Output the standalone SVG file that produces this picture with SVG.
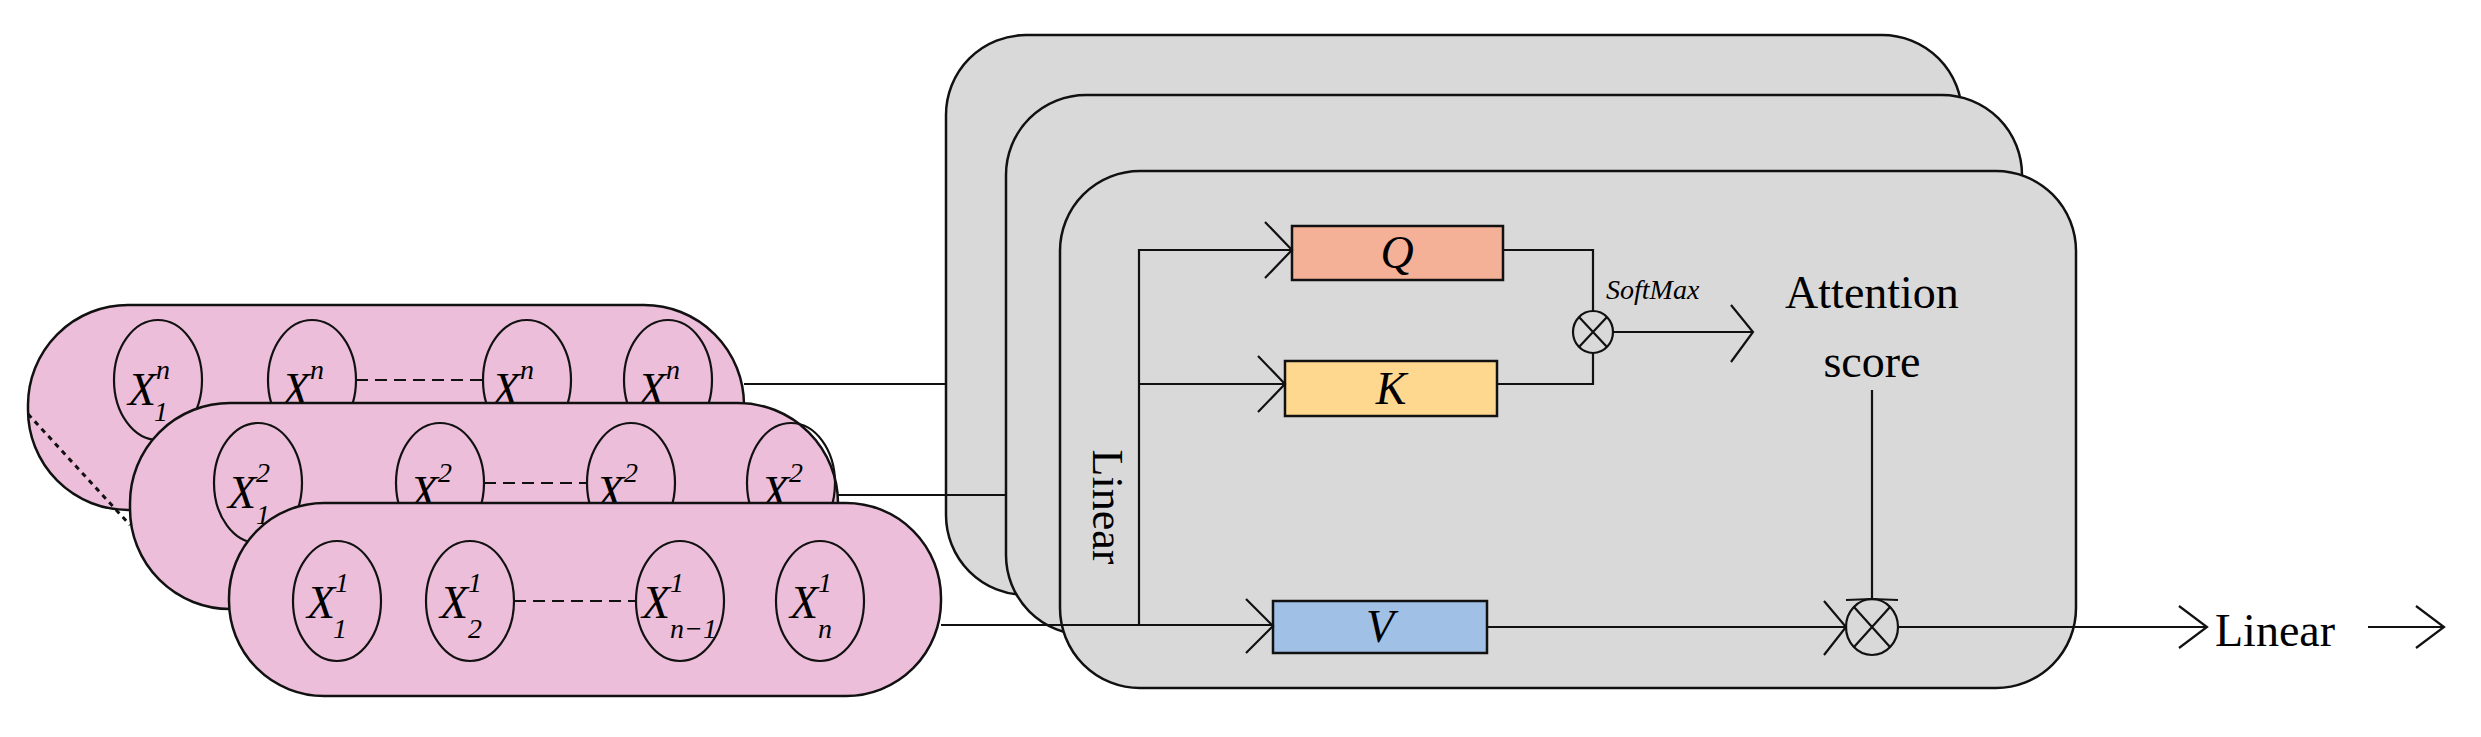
<svg xmlns="http://www.w3.org/2000/svg" width="2481" height="737" viewBox="0 0 2481 737">
<style>
.g{fill:#d9d9d9;stroke:#111;stroke-width:2.5}
.p{fill:#ecbed9;stroke:#111;stroke-width:2.5}
.e{fill:none;stroke:#111;stroke-width:2.2}
.l{fill:none;stroke:#111;stroke-width:2.2}
.ch{fill:none;stroke:#111;stroke-width:2.2}
.t{font-family:"Liberation Serif",serif;fill:#000}
.x{font-family:"Liberation Serif",serif;font-style:italic;font-size:46px}
.s{font-size:28px}
</style>
<g id="panels">
<rect class="g" x="946" y="35" width="1016" height="560" rx="80"/>
<rect class="g" x="1006" y="95" width="1016" height="540" rx="80"/>
<rect class="g" x="1060" y="171" width="1016" height="517" rx="80"/>
</g>
<g id="pink-n">
<rect class="p" x="28" y="305" width="716" height="205" rx="100"/>
<line x1="28" y1="414" x2="130" y2="525" stroke="#111" stroke-width="3" stroke-dasharray="5,5"/>
<ellipse class="e" cx="158" cy="380" rx="44" ry="60"/><ellipse class="e" cx="312" cy="380" rx="44" ry="60"/>
<ellipse class="e" cx="527" cy="380" rx="44" ry="60"/><ellipse class="e" cx="668" cy="380" rx="44" ry="60"/>
<line x1="356" y1="380" x2="483" y2="380" stroke="#111" stroke-width="2.2" stroke-dasharray="12,7"/>
<text class="x" x="128" y="405">X<tspan class="s" dy="-26">n</tspan><tspan class="s" dx="-16" dy="42">1</tspan></text>
<text class="x" x="282" y="405">X<tspan class="s" dy="-26">n</tspan><tspan class="s" dx="-16" dy="42">2</tspan></text>
<text class="x" x="492" y="405">X<tspan class="s" dy="-26">n</tspan><tspan class="s" dx="-16" dy="42">n−1</tspan></text>
<text class="x" x="638" y="405">X<tspan class="s" dy="-26">n</tspan><tspan class="s" dx="-16" dy="42">n</tspan></text>
</g>
<g id="pink-2">
<rect class="p" x="130" y="403" width="708" height="206" rx="100"/>
<ellipse class="e" cx="258" cy="483" rx="44" ry="60"/><ellipse class="e" cx="440" cy="483" rx="44" ry="60"/>
<ellipse class="e" cx="631" cy="483" rx="44" ry="60"/><ellipse class="e" cx="791" cy="483" rx="44" ry="60"/>
<line x1="484" y1="483" x2="587" y2="483" stroke="#111" stroke-width="2.2" stroke-dasharray="12,7"/>
<text class="x" x="228" y="508">X<tspan class="s" dy="-26">2</tspan><tspan class="s" dx="-14" dy="42">1</tspan></text>
<text class="x" x="410" y="508">X<tspan class="s" dy="-26">2</tspan><tspan class="s" dx="-14" dy="42">2</tspan></text>
<text class="x" x="596" y="508">X<tspan class="s" dy="-26">2</tspan><tspan class="s" dx="-14" dy="42">n−1</tspan></text>
<text class="x" x="761" y="508">X<tspan class="s" dy="-26">2</tspan><tspan class="s" dx="-14" dy="42">n</tspan></text>
</g>
<g id="pink-1">
<rect class="p" x="229" y="503" width="712" height="193" rx="95"/>
<ellipse class="e" cx="337" cy="601" rx="44" ry="60"/><ellipse class="e" cx="470" cy="601" rx="44" ry="60"/>
<ellipse class="e" cx="680" cy="601" rx="44" ry="60"/><ellipse class="e" cx="820" cy="601" rx="44" ry="60"/>
<line x1="514" y1="601" x2="636" y2="601" stroke="#111" stroke-width="2.2" stroke-dasharray="12,7"/>
<text class="x" x="307" y="618">X<tspan class="s" dy="-26">1</tspan><tspan class="s" dx="-14" dy="46">1</tspan></text>
<text class="x" x="440" y="618">X<tspan class="s" dy="-26">1</tspan><tspan class="s" dx="-14" dy="46">2</tspan></text>
<text class="x" x="642" y="618">X<tspan class="s" dy="-26">1</tspan><tspan class="s" dx="-14" dy="46">n−1</tspan></text>
<text class="x" x="790" y="618">X<tspan class="s" dy="-26">1</tspan><tspan class="s" dx="-14" dy="46">n</tspan></text>
</g>
<g id="boxes">
<rect x="1292" y="226" width="211" height="54" fill="#f4b197" stroke="#111" stroke-width="2.5"/>
<rect x="1285" y="361" width="212" height="55" fill="#ffd890" stroke="#111" stroke-width="2.5"/>
<rect x="1273" y="601" width="214" height="52" fill="#a1c0e6" stroke="#111" stroke-width="2.5"/>
<text class="x" x="1397" y="268" text-anchor="middle">Q</text>
<text class="x" x="1391" y="404" text-anchor="middle">K</text>
<text class="x" x="1380" y="642" text-anchor="middle">V</text>
<text class="t" x="1103" y="507" font-size="44" text-anchor="middle" dominant-baseline="middle" transform="rotate(90 1103 507)">Linear</text>
<text class="t" x="1606" y="299" font-size="28" font-style="italic">SoftMax</text>
<text class="t" x="1872" y="308" font-size="46" text-anchor="middle">Attention</text>
<text class="t" x="1872" y="377" font-size="46" text-anchor="middle">score</text>
<text class="t" x="2215" y="646" font-size="46">Linear</text>
</g>
<g id="ops">
<ellipse class="e" cx="1593" cy="332" rx="20" ry="21"/>
<path class="l" d="M1579,317 L1607,347 M1607,317 L1579,347"/>
<ellipse class="e" cx="1872" cy="627" rx="26" ry="28"/>
<path class="l" d="M1854,607 L1890,647 M1890,607 L1854,647"/>
</g>
<g id="connectors">
<path class="l" d="M744,384 H946 M838,495 H1006 M941,625 H1273 M1139,625 V250 H1292 M1139,384 H1285"/>
<path class="l" d="M1503,250 H1593 V311 M1497,384 H1593 V353 M1613,332 H1753"/>
<path class="l" d="M1872,390 V599 M1487,627 H1846 M1898,627 H2207 M2368,627 H2444"/>
<path class="ch" d="M1265,222 L1292,250 L1265,278 M1258,356 L1285,384 L1258,412 M1246,599 L1273,626 L1246,653 M1731,305 L1753,332 L1731,362 M1846,600 L1872,599 L1898,600 M1824,601 L1846,627 L1824,655 M2179,606 L2207,627 L2179,648 M2416,606 L2444,627 L2416,648"/>
</g>
</svg>
